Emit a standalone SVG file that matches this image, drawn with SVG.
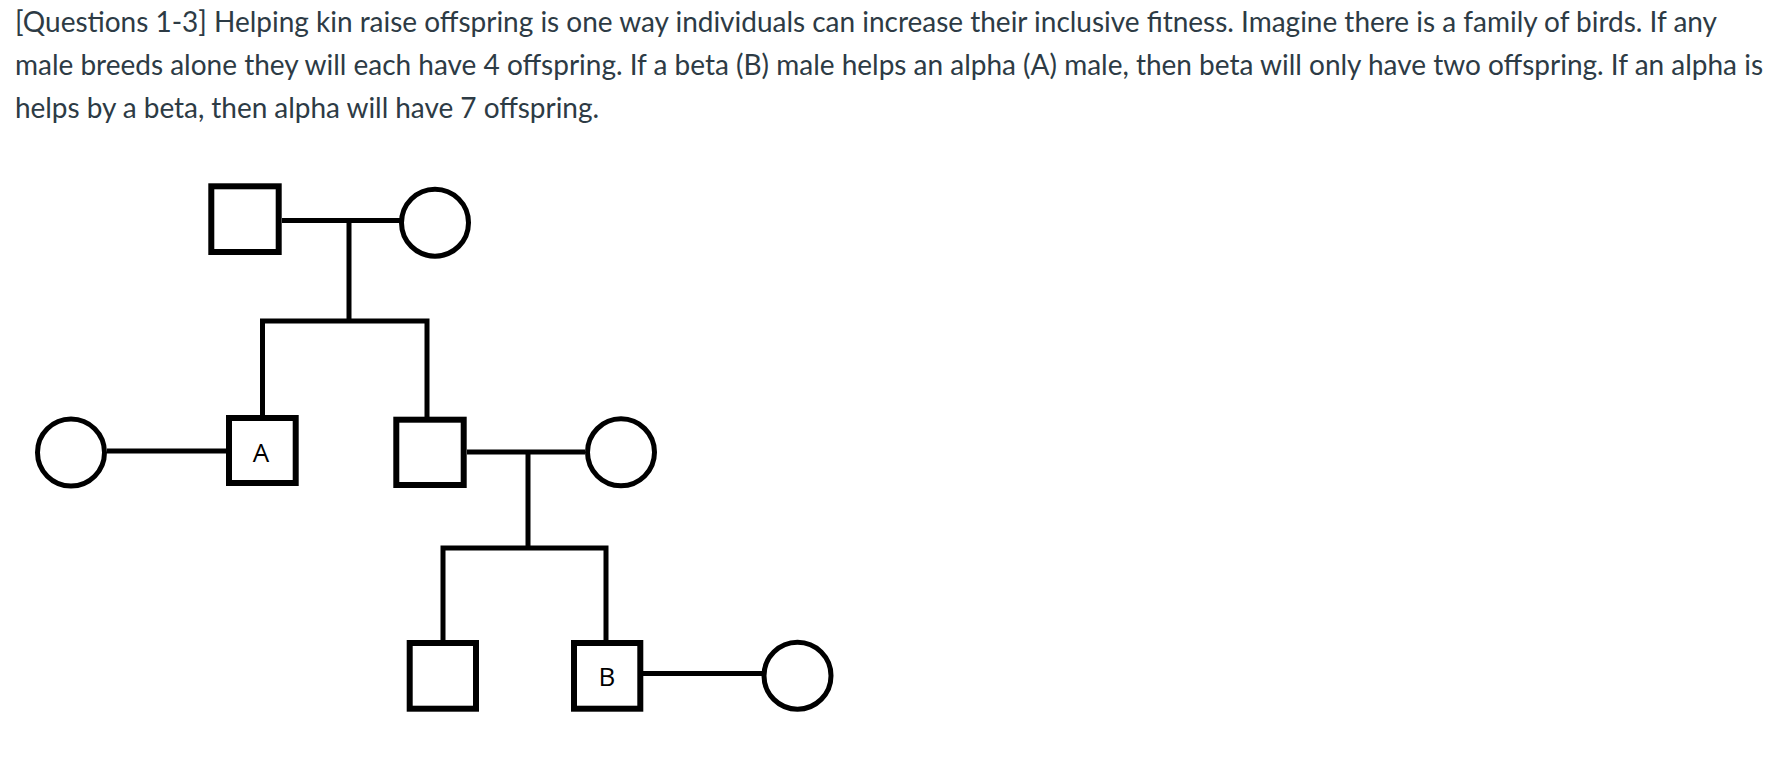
<svg xmlns="http://www.w3.org/2000/svg" width="1784" height="774" viewBox="0 0 1784 774">
<style>
.q{font-family:Lato,"Open Sans","Liberation Sans",sans-serif;font-size:28px;fill:#2d3b45}
.m{fill:#fff;stroke:#000;stroke-width:6}
.f{fill:#fff;stroke:#000;stroke-width:5}
.c{fill:none;stroke:#000;stroke-width:5;stroke-linejoin:miter}
.lbl{font-family:"Open Sans","Liberation Sans",sans-serif;font-size:26px;fill:#000;text-anchor:middle;dominant-baseline:central}
</style>
<rect width="1784" height="774" fill="#fff"/>
<g id="question">
<text class="q" x="15" y="32" textLength="1702" lengthAdjust="spacing">[Questions 1-3] Helping kin raise offspring is one way individuals can increase their inclusive fitness. Imagine there is a family of birds. If any</text>
<text class="q" x="15" y="75" textLength="1748" lengthAdjust="spacing">male breeds alone they will each have 4 offspring. If a beta (B) male helps an alpha (A) male, then beta will only have two offspring. If an alpha is</text>
<text class="q" x="15" y="118" textLength="584" lengthAdjust="spacing">helps by a beta, then alpha will have 7 offspring.</text>
</g>
<g id="connectors">
<path class="c" d="M282,220.5 H400"/>
<path class="c" d="M349,220.5 V321"/>
<path class="c" d="M262.5,416 V321 H427 V418"/>
<path class="c" d="M107,451 H226"/>
<path class="c" d="M467,452 H585"/>
<path class="c" d="M528,452 V548"/>
<path class="c" d="M443,641 V548 H606 V641"/>
<path class="c" d="M643,673.5 H762"/>
</g>
<g id="grandfather"><rect class="m" x="211.3" y="186.3" width="67.4" height="65.7"/></g>
<g id="grandmother"><circle class="f" cx="435" cy="222.7" r="33.5"/></g>
<g id="alpha-mate"><circle class="f" cx="71" cy="452.5" r="33.5"/></g>
<g id="alpha"><rect class="m" x="229" y="418" width="66.7" height="65"/><text class="lbl" x="261" y="452">A</text></g>
<g id="father"><rect class="m" x="396.3" y="419.7" width="67.4" height="65.3"/></g>
<g id="mother"><circle class="f" cx="621" cy="452.3" r="33.5"/></g>
<g id="brother"><rect class="m" x="409.7" y="643" width="66.3" height="65.7"/></g>
<g id="beta"><rect class="m" x="574" y="643" width="66.3" height="65.7"/><text class="lbl" x="607" y="676">B</text></g>
<g id="beta-mate"><circle class="f" cx="797.5" cy="675.7" r="33.5"/></g>
</svg>
